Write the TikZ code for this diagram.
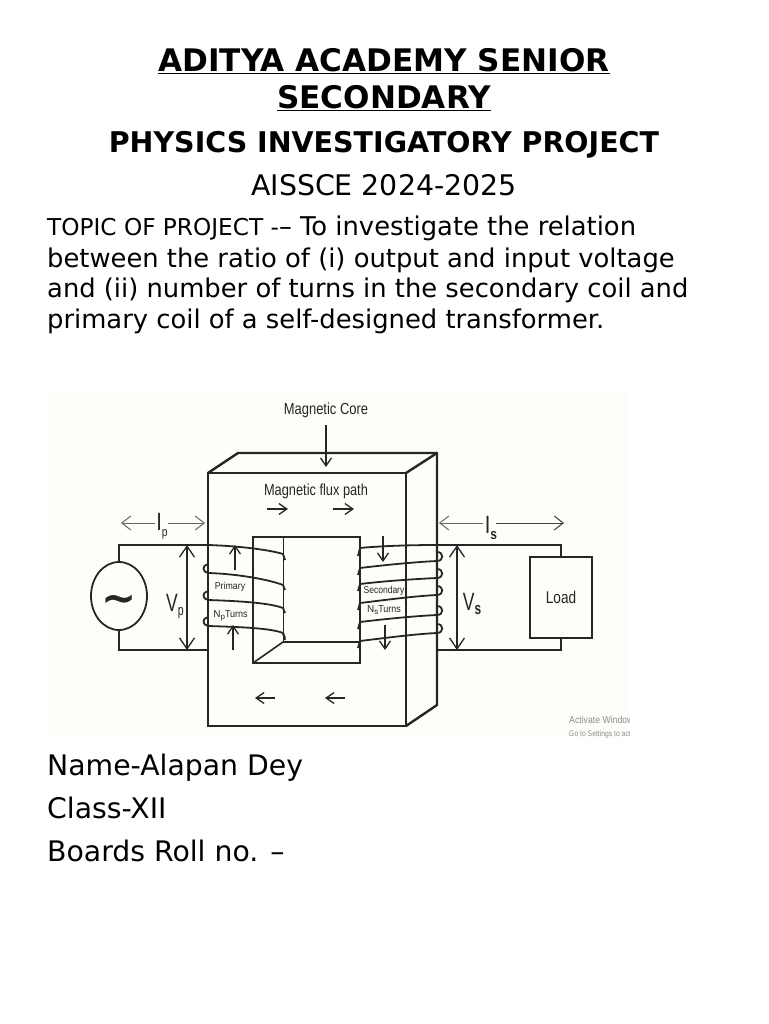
\documentclass[tikz,border=0pt]{standalone}
\usepackage{fontspec}
\setmainfont{DejaVu Sans}
\newfontfamily\labelfont{Liberation Sans}
\usetikzlibrary{arrows.meta, positioning, shapes.geometric}
\definecolor{photo}{HTML}{FDFDF9}
\newcommand{\squeeze}[2]{\scalebox{#1}[1]{#2}}
\tikzset{
  title/.style={inner sep=0pt, font=\bfseries\fontsize{31.1}{36}\selectfont, align=center},
  body/.style={inner sep=0pt, anchor=base west, font=\fontsize{25.8}{30}\selectfont},
  foot/.style={body, font=\fontsize{28.3}{32}\selectfont},
  core/.style={line width=2.4pt, black!85},
  wire/.style={line width=1.6pt, black!85},
  coil/.style={line width=1.8pt, black!85},
  flux/.style={line width=1.3pt, black!85, -{Straight Barb[length=8pt, width=11pt]}},
  volt/.style={line width=1.3pt, black!85, {Straight Barb[length=11pt, width=15pt]}-{Straight Barb[length=11pt, width=15pt]}},
  cur/.style={line width=1pt, black!60, -{Straight Barb[length=9pt, width=14pt]}},
  lbl/.style={inner sep=0pt, font=\labelfont\fontsize{16}{18}\selectfont, black!85},
  big/.style={lbl, font=\labelfont\fontsize{25}{25}\selectfont},
  small/.style={inner sep=0pt, font=\labelfont\fontsize{10}{12}\selectfont, black!85},
}
\begin{document}
\begin{tikzpicture}[x=1pt, y=-1pt]
\useasboundingbox (0,0) rectangle (768,1024);
\fill[white] (0,0) rectangle (768,1024);
\node[title] (head1) at (384,61) {\underline{ADITYA ACADEMY SENIOR}};
\node[title] (head2) at (384,98) {\underline{SECONDARY}};
\node[title, font=\bfseries\fontsize{28.5}{30}\selectfont] (head3) at (384,145) {PHYSICS INVESTIGATORY PROJECT};
\node[inner sep=0pt, font=\fontsize{28.4}{30}\selectfont] (head4) at (384,185) {AISSCE 2024-2025};
\node[body] (line1) at (47,236) {{\fontsize{23.2}{30}\selectfont TOPIC OF PROJECT -}-- To investigate the relation};
\node[body] (line2) at (47,267) {between the ratio of (i) output and input voltage};
\node[body] (line3) at (47,297) {and (ii) number of turns in the secondary coil and};
\node[body] (line4) at (47,328) {primary coil of a self-designed transformer.};
\fill[photo] (46,391) rectangle (629,738);
% core
\draw[core] (208,473) rectangle (406,726);
\draw[core] (208,473) -- (238,453) -- (437,453) -- (437,705) -- (406,726);
\draw[core] (406,473) -- (437,453);
\draw[wire] (253,537) rectangle (360,663);
\draw[wire, line width=1pt] (283,537) -- (283,642);
\draw[wire] (283,642) -- (360,642);
\draw[wire] (253,663) -- (283,642);
% supply and load
\node[draw, ellipse, minimum width=56pt, minimum height=68pt, inner sep=0pt, line width=1.8pt, black!85] (supply) at (119,596) {};
\node[inner sep=0pt, font=\bfseries\fontsize{42}{42}\selectfont, black!85] (tilde) at (119,604) {\textasciitilde};
\node[draw, minimum width=62pt, minimum height=81pt, inner sep=0pt, line width=2pt, black!85, font=\labelfont\fontsize{17}{18}\selectfont] (load) at (561,597.5) {\squeeze{.8}{Load}};
\coordinate (pa) at (208,545);
\coordinate (pb) at (208,650);
\coordinate (sa) at (437,545);
\coordinate (sb) at (437,650);
\draw[wire] (supply.north) |- (pa);
\draw[wire] (supply.south) |- (pb);
\draw[wire] (load.north) |- (sa);
\draw[wire] (load.south) |- (sb);
% primary coil
\draw[coil] (pa) .. controls (240,546) and (270,550) .. (283,554) -- (285,560);
\foreach \ya/\yb in {568/585, 595/608, 621/633} {
  \draw[coil] (208,\ya-4) .. controls (202,\ya-3) and (202,\ya+4) .. (208,\ya+5) .. controls (240,\ya+6) and (270,\yb-5) .. (283,\yb) -- (285,\yb+5);
}
\draw[coil] (283,633) -- (285,640);
% secondary coil
\draw[coil] (sa) .. controls (410,545) and (380,546) .. (360,548) -- (358,556);
\foreach \ya/\yb in {556/568, 573/584, 590/603, 610/622, 628/641} {
  \draw[coil] (437,\ya-4) .. controls (444,\ya-4) and (444,\ya+5) .. (437,\ya+5) .. controls (415,\ya+6) and (385,\yb-3) .. (360,\yb) -- (358,\yb+7);
}
% arrows
\node[lbl] (corelabel) at (326,410) {\squeeze{.81}{Magnetic Core}};
\coordinate (coretip) at (326,467);
\draw[flux] ([yshift=-7pt]corelabel.south) -- (coretip);
\node[lbl] (fluxlabel) at (316,491) {\squeeze{.8}{Magnetic flux path}};
\foreach \xa in {267,333} \draw[flux] (\xa,509) -- (\xa+21,509);
\foreach \xa in {275,345} \draw[flux] (\xa,698) -- (\xa-20,698);
\draw[flux] (235,570) -- (235,545);
\draw[flux] (233,650) -- (233,625);
\draw[flux] (383,536) -- (383,562);
\draw[flux] (385,625) -- (385,650);
\node[big] (ip) at (162,526) {\squeeze{.8}{I\raisebox{-6pt}{\fontsize{13}{13}\selectfont p}}};
\draw[cur] (155,523) -- (121,523);
\draw[cur] (168,523) -- (205,523);
\node[big] (is) at (491,528) {\squeeze{.8}{I\raisebox{-6pt}{\fontsize{15}{15}\selectfont\bfseries s}}};
\draw[cur] (483,523) -- (439,523);
\draw[cur, black!75] (496,523) -- (564,523);
\coordinate (vptop) at (187,545);
\coordinate (vpbot) at (187,650);
\coordinate (vstop) at (457,545);
\coordinate (vsbot) at (457,650);
\draw[volt] (vptop) -- (vpbot);
\draw[volt] (vstop) -- (vsbot);
\node[big] (vp) at (175,606) {\squeeze{.7}{V\raisebox{-4pt}{\fontsize{15}{15}\selectfont p}}};
\node[big] (vs) at (472,604) {\squeeze{.7}{V\raisebox{-4pt}{\fontsize{17}{17}\selectfont\bfseries s}}};
\node[small] (primary) at (230,587) {\squeeze{.88}{Primary}};
\node[small] (nturns) at (230.5,616) {N\raisebox{-1.5pt}{\fontsize{8}{8}\selectfont p}\squeeze{.9}{Turns}};
\node[small] (secondary) at (384,591) {\squeeze{.85}{Secondary}};
\node[small] (sturns) at (384,610) {N\raisebox{-1.5pt}{\fontsize{8}{8}\selectfont s}\squeeze{.9}{Turns}};
% watermark
\begin{scope}
\clip (560,700) rectangle (629,745);
\node[inner sep=0pt, anchor=base west, font=\labelfont\fontsize{10}{12}\selectfont, black!45] (act1) at (569,723) {\squeeze{.87}{Activate Windows}};
\node[inner sep=0pt, anchor=base west, font=\labelfont\fontsize{8}{10}\selectfont, black!45] (act2) at (569,736) {\squeeze{.85}{Go to Settings to activate}};
\end{scope}
% footer
\node[foot] (name) at (47,775) {Name-Alapan Dey};
\node[foot] (class) at (47,818) {Class-XII};
\node[foot] (roll) at (47,861) {Boards Roll no. --};
\end{tikzpicture}
\end{document}
